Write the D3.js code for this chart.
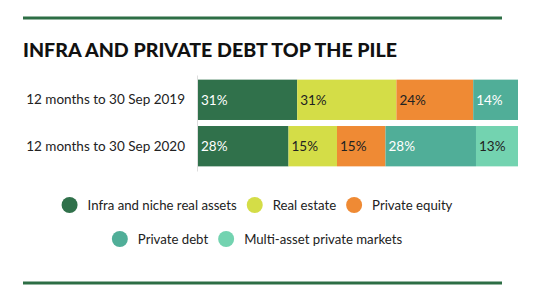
<!DOCTYPE html>
<html>
<head>
<meta charset="utf-8">
<script src="https://cdn.jsdelivr.net/npm/d3@7"></script>
<style>
  body { margin: 0; background: #fff; }
  svg { display: block; font-family: Lato, "Noto Sans", sans-serif; }
</style>
</head>
<body>
<div id="chart"></div>
<script>
const periods = ["12 months to 30 Sep 2019", "12 months to 30 Sep 2020"];
const assetClasses = ["Infra and niche real assets", "Real estate", "Private equity", "Private debt", "Multi-asset private markets"];
const infra = [31, 28];
const realEstate = [31, 15];
const privateEquity = [24, 15];
const privateDebt = [14, 28];
const multiAsset = [0, 13];
const colors = ["#30714b", "#d4dd47", "#ef8a34", "#50ae98", "#73d3b0"];
const labelColors = ["#fff", "#222", "#222", "#fff", "#222"];

const width = 550;
const height = 300;

const rows = periods.map((p, i) => ({
  period: p,
  [assetClasses[0]]: infra[i],
  [assetClasses[1]]: realEstate[i],
  [assetClasses[2]]: privateEquity[i],
  [assetClasses[3]]: privateDebt[i],
  [assetClasses[4]]: multiAsset[i]
}));

const series = d3.stack()
  .keys(assetClasses)
  .offset(d3.stackOffsetExpand)(rows);

const svg = d3.select("#chart")
  .append("svg")
  .attr("width", width)
  .attr("height", height);

const color = d3.scaleOrdinal().domain(assetClasses).range(colors);
const x = d3.scaleLinear().domain([0, 1]).range([198, 518]);
const y = d3.scaleBand().domain(periods).range([75, 171]).paddingInner(0.13).paddingOuter(0.1);

// rules top and bottom
svg.append("rect").attr("x", 23).attr("y", 16.5).attr("width", 479).attr("height", 3).attr("fill", "#2d6e45");
svg.append("rect").attr("x", 23).attr("y", 281.5).attr("width", 479).attr("height", 3).attr("fill", "#2d6e45");

svg.append("text")
  .attr("x", 23)
  .attr("y", 57)
  .attr("font-size", 19)
  .attr("font-weight", 900)
  .attr("fill", "#111")
  .attr("textLength", 374)
  .attr("lengthAdjust", "spacingAndGlyphs")
  .text("INFRA AND PRIVATE DEBT TOP THE PILE");

const yAxis = svg.append("g")
  .attr("transform", "translate(197,0)")
  .call(d3.axisLeft(y).tickSize(0).tickSizeOuter(0).tickPadding(12));
yAxis.select(".domain").attr("stroke", "#ddd");
yAxis.selectAll("text").attr("font-size", 13.5).attr("fill", "#222").attr("font-family", "Lato, sans-serif");

series.forEach((s, k) => {
  const g = svg.append("g");
  g.selectAll("rect")
    .data(s.filter(d => d[1] > d[0]))
    .join("rect")
    .attr("x", d => x(d[0]))
    .attr("y", d => y(d.data.period))
    .attr("width", d => x(d[1]) - x(d[0]))
    .attr("height", y.bandwidth())
    .attr("fill", color(s.key));
  g.selectAll("text")
    .data(s.filter(d => d[1] > d[0]))
    .join("text")
    .attr("x", d => x(d[0]) + 3)
    .attr("y", d => y(d.data.period) + y.bandwidth() / 2 + 5)
    .attr("font-size", 13.5)
    .attr("fill", labelColors[k])
    .text(d => d.data[s.key] + "%");
});

// legend, two centred rows
const legendRows = [assetClasses.slice(0, 3), assetClasses.slice(3)];
const legendY = [205, 239];
legendRows.forEach((keys, r) => {
  const g = svg.append("g");
  let cx = 0;
  keys.forEach(k => {
    const item = g.append("g").attr("transform", `translate(${cx},0)`);
    item.append("circle").attr("cx", 8).attr("cy", 0).attr("r", 8).attr("fill", color(k));
    const t = item.append("text")
      .attr("x", 26)
      .attr("y", 5)
      .attr("font-size", 13.2)
      .attr("fill", "#222")
      .text(k);
    cx += 26 + t.node().getComputedTextLength() + 10;
  });
  const total = cx - 10;
  g.attr("transform", `translate(${257 - total / 2},${legendY[r]})`);
});
</script>
</body>
</html>
